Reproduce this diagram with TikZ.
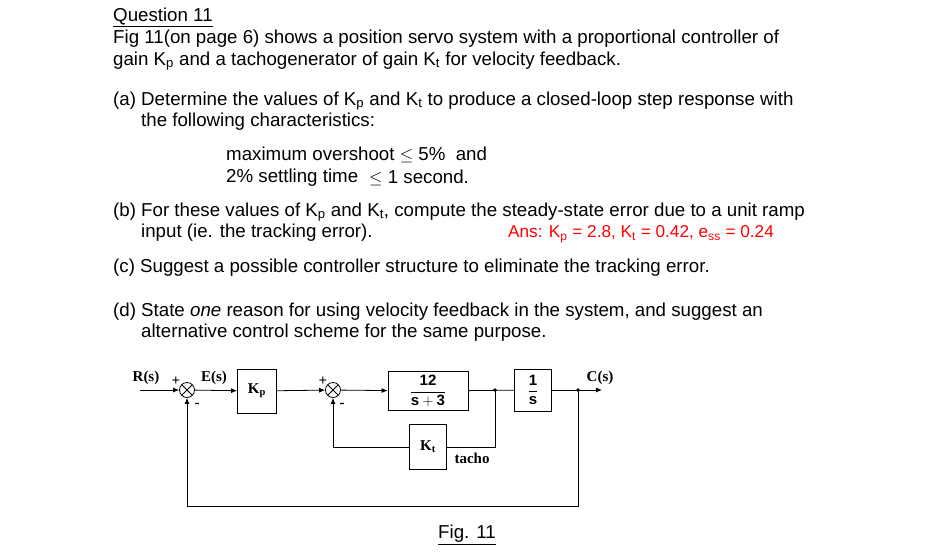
\documentclass[tikz,border=0pt]{standalone}
\usepackage{fontspec}
\setmainfont{Liberation Sans}
\newfontfamily\dser{Liberation Serif}
\usetikzlibrary{arrows.meta}
\begin{document}
\begin{tikzpicture}[x=1pt,y=-1pt,
 txt/.style={anchor=west,inner sep=0pt,font=\fontsize{18.7}{22}\selectfont},
 blk/.style={draw,thick,inner sep=0pt,font=\dser\fontsize{15}{17}\selectfont\bfseries},
 sum/.style={draw,thick,circle,minimum size=15pt,inner sep=0pt,path picture={\draw (path picture bounding box.south west)--(path picture bounding box.north east)(path picture bounding box.north west)--(path picture bounding box.south east);}},
 lab/.style={inner sep=0pt,font=\dser\fontsize{15}{17}\selectfont\bfseries},
 sig/.style={thick},
 arr/.style={thick,-{Latex[length=6pt,width=5pt]}}]
\useasboundingbox (0,0) rectangle (927,555);
\node[txt] (q) at (113,17) {\underline{Question 11}};
\node[txt] (l1) at (113,39) {Fig 11(on page 6) shows a position servo system with a proportional controller of};
\node[txt] (l2) at (113,61) {gain K\textsubscript{p} and a tachogenerator of gain K\textsubscript{t} for velocity feedback.};
\node[txt] (a1) at (113,101) {(a) Determine the values of K\textsubscript{p} and K\textsubscript{t} to produce a closed-loop step response with};
\node[txt] (a2) at (141,122) {the following characteristics:};
\node[txt] (a3) at (226,155) {maximum overshoot $\leq$ 5\%\ \ and};
\node[txt] (a4) at (226,178) {2\% settling time};
\node[txt] (a5) at (369,178) {$\leq$ 1 second.};
\node[txt] (b1) at (113,212) {(b) For these values of K\textsubscript{p} and K\textsubscript{t}, compute the steady-state error due to a unit ramp};
\node[txt] (b2) at (141,233) {input (ie. the tracking error).};
\node[txt,text=red,font=\fontsize{17.2}{20}\selectfont] (ans) at (508,234) {Ans: K\textsubscript{p} = 2.8, K\textsubscript{t} = 0.42, e\textsubscript{ss} = 0.24};
\node[txt] (c1) at (113,268) {(c) Suggest a possible controller structure to eliminate the tracking error.};
\node[txt] (d1) at (113,312) {(d) State \textit{one} reason for using velocity feedback in the system, and suggest an};
\node[txt] (d2) at (141,333) {alternative control scheme for the same purpose.};
% diagram
\coordinate (in) at (140,390);
\node[sum] (s1) at (187,390) {};
\node[blk,minimum width=39pt,minimum height=44pt] (kp) at (257,391) {K\textsubscript{p}};
\node[sum] (s2) at (333,390) {};
\node[blk,minimum width=80pt,minimum height=39pt] (g) at (428,391) {$\displaystyle\mathbf{\frac{12}{s+3}}$};
\coordinate (j1) at (495,390);
\node[blk,minimum width=37pt,minimum height=42pt] (i) at (533,390) {$\displaystyle\mathbf{\frac{1}{s}}$};
\coordinate (j2) at (578,390);
\coordinate (out) at (602,390);
\node[blk,minimum width=37pt,minimum height=45pt] (kt) at (428,447) {K\textsubscript{t}};
\fill (j1) circle (1.8pt) (j2) circle (1.8pt);
\draw[arr] (in) -- (s1);
\draw[arr] (s1) -- (kp);
\draw[arr] (kp) -- (s2);
\draw[arr] (s2) -- (g);
\draw[sig] (g) -- (i);
\draw[arr] (i.east) -- (out);
\draw[sig] (j1) |- (kt.east);
\draw[arr] (kt.west) -| (s2.south);
\draw[arr] (j2) |- (187,506) -- (s1.south);
\node[lab] (R) at (146,378) {R(s)};
\node[lab] (E) at (214,378) {E(s)};
\node[lab] (C) at (600,378) {C(s)};
\node[lab] (p1) at (176,381) {+};
\node[lab] (m1) at (197,405) {-};
\node[lab] (p2) at (323,381) {+};
\node[lab] (m2) at (342,405) {-};
\node[lab] (ta) at (472,458) {tacho};
\node[txt] (fig) at (438,535) {\underline{Fig. 11}};
\end{tikzpicture}
\end{document}
